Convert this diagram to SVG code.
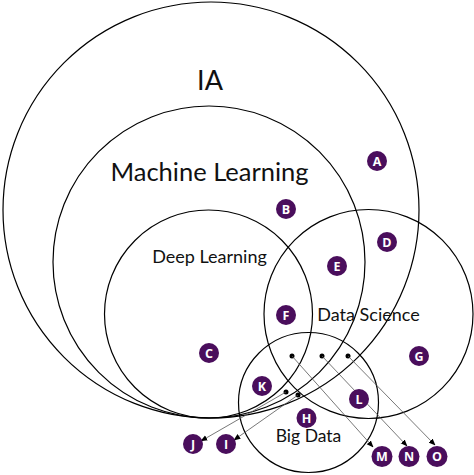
<svg xmlns="http://www.w3.org/2000/svg" width="474" height="475" viewBox="0 0 474 475">
<style>
.set{fill:none;stroke:#000;stroke-width:1.2}
.lbl{font-family:Lato,"Open Sans","Liberation Sans",sans-serif;fill:#111}
.b circle{fill:#4a0e5c}
.b text{font-family:"Open Sans","Liberation Sans",sans-serif;font-weight:bold;font-size:12.5px;fill:#fff;text-anchor:middle}
.arr{stroke:#555;stroke-width:0.8;fill:none;marker-end:url(#ah)}
.dot{fill:#000}
</style>
<defs>
<marker id="ah" viewBox="0 0 10 10" refX="9" refY="5" markerWidth="7" markerHeight="7" orient="auto" markerUnits="userSpaceOnUse">
<path d="M0,1 L10,5 L0,9 z" fill="#000"/>
</marker>
</defs>
<rect width="474" height="475" fill="#fff"/>
<g id="sets">
<g id="ia"><circle class="set" cx="211" cy="210" r="208"/><text class="lbl" x="210" y="90" font-size="27" text-anchor="middle">IA</text></g>
<g id="ml"><circle class="set" cx="209" cy="262" r="156"/><text class="lbl" x="209.5" y="181" font-size="25.5" text-anchor="middle">Machine Learning</text></g>
<g id="dl"><circle class="set" cx="208.5" cy="314" r="104"/><text class="lbl" x="209.5" y="263" font-size="18" text-anchor="middle">Deep Learning</text></g>
<g id="ds"><circle class="set" cx="368.5" cy="314" r="104.5"/><text class="lbl" x="368.5" y="321" font-size="18" text-anchor="middle">Data Science</text></g>
<g id="bd"><circle class="set" cx="308.5" cy="402.5" r="70"/><text class="lbl" x="308.5" y="442" font-size="17.5" text-anchor="middle">Big Data</text></g>
</g>
<g id="connectors">
<circle class="dot" cx="292" cy="356" r="2.5"/>
<circle class="dot" cx="322" cy="356" r="2.5"/>
<circle class="dot" cx="348" cy="356" r="2.5"/>
<circle class="dot" cx="286" cy="392" r="2.5"/>
<circle class="dot" cx="298" cy="395" r="2.5"/>
<path class="arr" d="M292,356 L373,447"/>
<path class="arr" d="M322,356 L407,446"/>
<path class="arr" d="M348,356 L435,445"/>
<path class="arr" d="M286,392 L201,441"/>
<path class="arr" d="M298,395 L234,440"/>
</g>
<g id="nA" class="b"><circle cx="377" cy="161" r="10"/><text x="377" y="165.5">A</text></g>
<g id="nB" class="b"><circle cx="286" cy="209" r="10"/><text x="286" y="213.5">B</text></g>
<g id="nC" class="b"><circle cx="209" cy="353" r="10"/><text x="209" y="357.5">C</text></g>
<g id="nD" class="b"><circle cx="387" cy="242" r="10"/><text x="387" y="246.5">D</text></g>
<g id="nE" class="b"><circle cx="337" cy="266" r="10"/><text x="337" y="270.5">E</text></g>
<g id="nF" class="b"><circle cx="286" cy="315" r="10"/><text x="286" y="319.5">F</text></g>
<g id="nG" class="b"><circle cx="419" cy="356" r="10"/><text x="419" y="360.5">G</text></g>
<g id="nH" class="b"><circle cx="306.5" cy="418" r="10"/><text x="306.5" y="422.5">H</text></g>
<g id="nI" class="b"><circle cx="226" cy="444" r="10"/><text x="226" y="448.5">I</text></g>
<g id="nJ" class="b"><circle cx="193" cy="444" r="10"/><text x="193" y="448.5">J</text></g>
<g id="nK" class="b"><circle cx="262" cy="386" r="10"/><text x="262" y="390.5">K</text></g>
<g id="nL" class="b"><circle cx="359" cy="399" r="10"/><text x="359" y="403.5">L</text></g>
<g id="nM" class="b"><circle cx="382" cy="456.5" r="10.5"/><text x="382" y="461">M</text></g>
<g id="nN" class="b"><circle cx="409" cy="456.5" r="10.5"/><text x="409" y="461">N</text></g>
<g id="nO" class="b"><circle cx="437" cy="456.5" r="10.5"/><text x="437" y="461">O</text></g>
</svg>
